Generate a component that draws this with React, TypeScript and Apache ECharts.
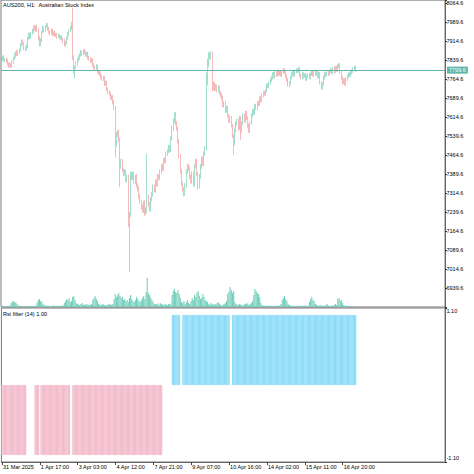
import React, { useEffect, useRef } from 'react';
import * as echarts from 'echarts';

const chartTitle = 'AUS200, H1:  Australian Stock Index';
const indicatorTitle = 'Rsi filter (14) 1.00';
const tickLabels = ['31 Mar 2025', '1 Apr 17:00', '3 Apr 03:00', '4 Apr 12:00', '7 Apr 21:00', '9 Apr 07:00', '10 Apr 16:00', '14 Apr 02:00', '15 Apr 11:00', '16 Apr 20:00'];
const barsPerLabel = 32;
const totalSlots = 375;

const firstOpen = 7840;
const closes = [
  7845, 7850, 7838, 7842, 7835, 7825, 7818, 7822, 7815, 7832,
  7845, 7858, 7868, 7862, 7872, 7878, 7900, 7912, 7905, 7888,
  7882, 7895, 7925, 7938, 7930, 7945, 7955, 7968, 7960, 7972,
  7958, 7925, 7900, 7918, 7950, 7965, 7958, 7972, 7978, 7962,
  7950, 7945, 7955, 7942, 7948, 7938, 7940, 7932, 7935, 7928,
  7930, 7922, 7915, 7900, 7908, 7925, 7942, 7955, 7965, 7975,
  7850, 7795, 7810, 7825, 7838, 7850, 7860, 7870, 7865, 7875,
  7868, 7860, 7865, 7850, 7842, 7835, 7840, 7820, 7812, 7808,
  7815, 7795, 7788, 7785, 7772, 7765, 7770, 7745, 7750, 7725,
  7712, 7705, 7690, 7695, 7672, 7650, 7505, 7545, 7555, 7525,
  7420, 7440, 7405, 7390, 7400, 7365, 7380, 7200, 7230, 7390,
  7375, 7390, 7360, 7380, 7345, 7330, 7300, 7280, 7260, 7245,
  7275, 7235, 7250, 7300, 7270, 7250, 7290, 7310, 7340, 7325,
  7360, 7350, 7380, 7375, 7400, 7420, 7410, 7445, 7440, 7470,
  7480, 7495, 7485, 7530, 7570, 7600, 7625, 7590, 7570, 7520,
  7460, 7400, 7350, 7330, 7310, 7345, 7400, 7420, 7410, 7380,
  7360, 7390, 7350, 7420, 7440, 7390, 7340, 7380, 7420, 7450,
  7430, 7470, 7490, 7770, 7820, 7860, 7850, 7865, 7730, 7745,
  7725, 7735, 7720, 7730, 7710, 7700, 7690, 7660, 7670, 7640,
  7650, 7620, 7600, 7610, 7580, 7540, 7510, 7560, 7590, 7600,
  7570, 7610, 7560, 7590, 7620, 7600, 7630, 7610, 7580, 7560,
  7590, 7620, 7640, 7630, 7660, 7650, 7670, 7665, 7690, 7680,
  7700, 7710, 7705, 7720, 7740, 7735, 7750, 7760, 7770, 7785,
  7775, 7790, 7780, 7795, 7785, 7790, 7780, 7795, 7800, 7790,
  7775, 7760, 7740, 7750, 7770, 7785, 7790, 7780, 7795, 7800,
  7795, 7805, 7780, 7770, 7785, 7775, 7780, 7765, 7775, 7780,
  7770, 7785, 7790, 7780, 7795, 7785, 7790, 7775, 7785, 7750,
  7730, 7745, 7770, 7785, 7780, 7790, 7785, 7795, 7800, 7790,
  7805, 7795, 7810, 7800, 7815, 7820, 7790, 7770, 7750, 7760,
  7745, 7765, 7775, 7785, 7780, 7790, 7795, 7805, 7810, 7799.6,
];
const upperWicks = [
  8, 6, 10, 5, 7, 9, 6, 8, 5, 7,
  7, 9, 6, 10, 8, 7, 6, 9, 8, 5,
  6, 8, 7, 10, 9, 6, 8, 7, 9, 6,
  7, 6, 9, 8, 5, 10, 7, 6, 8, 7,
  8, 6, 7, 9, 5, 8, 6, 7, 9, 6,
  7, 8, 6, 9, 7, 6, 8, 5, 9, 15,
  70, 8, 6, 9, 7, 8, 6, 9, 7, 8,
  7, 9, 6, 8, 7, 9, 6, 8, 7, 6,
  8, 6, 7, 9, 6, 8, 7, 6, 9, 7,
  6, 8, 9, 7, 6, 8, 7, 9, 8, 10,
  8, 10, 9, 7, 8, 9, 7, 6, 10, 8,
  9, 8, 10, 7, 9, 8, 10, 9, 8, 10,
  9, 10, 8, 170, 10, 9, 8, 10, 9, 8,
  9, 8, 10, 9, 8, 10, 9, 8, 10, 9,
  8, 10, 9, 8, 10, 9, 8, 10, 9, 8,
  9, 8, 10, 9, 8, 10, 9, 8, 10, 9,
  8, 10, 9, 8, 10, 9, 8, 10, 9, 8,
  9, 8, 10, 20, 25, 11, 9, 10, 8, 9,
  8, 9, 7, 8, 9, 7, 8, 9, 7, 8,
  8, 9, 7, 8, 9, 7, 8, 9, 7, 8,
  8, 9, 7, 8, 9, 7, 8, 9, 7, 8,
  7, 8, 6, 7, 8, 6, 7, 8, 6, 7,
  6, 7, 8, 6, 7, 8, 6, 7, 8, 6,
  7, 6, 8, 7, 6, 8, 7, 6, 8, 7,
  6, 7, 8, 6, 7, 8, 6, 7, 8, 6,
  7, 8, 6, 7, 8, 6, 7, 8, 6, 7,
  8, 6, 7, 8, 6, 7, 8, 6, 7, 8,
  6, 7, 8, 6, 7, 8, 6, 7, 8, 6,
  7, 8, 6, 7, 8, 6, 7, 8, 6, 7,
  8, 6, 7, 8, 6, 7, 8, 6, 7, 8,
];
const lowerWicks = [
  6, 9, 5, 8, 7, 6, 10, 5, 8, 6,
  8, 5, 9, 6, 7, 10, 5, 8, 6, 9,
  7, 6, 9, 5, 8, 7, 6, 10, 5, 8,
  9, 8, 7, 6, 8, 5, 9, 7, 6, 8,
  6, 9, 5, 8, 7, 6, 8, 9, 5, 7,
  8, 5, 9, 7, 6, 8, 5, 9, 6, 7,
  10, 10, 27, 6, 8, 5, 9, 6, 8, 7,
  6, 8, 7, 9, 5, 8, 7, 6, 9, 7,
  7, 9, 6, 8, 7, 6, 9, 8, 6, 8,
  8, 6, 7, 9, 8, 7, 50, 8, 10, 9,
  83, 9, 8, 10, 7, 9, 8, 20, 199, 10,
  10, 9, 8, 11, 9, 10, 8, 9, 10, 8,
  9, 10, 8, 15, 9, 10, 8, 9, 10, 8,
  8, 10, 9, 8, 10, 9, 8, 10, 9, 8,
  9, 8, 10, 9, 8, 10, 9, 8, 10, 9,
  10, 9, 8, 10, 9, 8, 10, 9, 8, 10,
  9, 8, 10, 9, 8, 10, 13, 8, 9, 10,
  8, 10, 9, 8, 30, 9, 8, 10, 15, 9,
  9, 7, 8, 9, 7, 8, 9, 7, 8, 9,
  9, 7, 8, 9, 7, 8, 45, 7, 8, 9,
  9, 7, 35, 9, 7, 8, 9, 7, 8, 9,
  8, 6, 7, 8, 6, 7, 8, 6, 7, 8,
  7, 8, 6, 7, 8, 6, 7, 8, 6, 7,
  6, 8, 7, 6, 8, 7, 6, 8, 7, 6,
  8, 7, 6, 8, 7, 6, 8, 7, 6, 8,
  6, 7, 8, 6, 7, 8, 6, 7, 8, 6,
  7, 6, 8, 7, 6, 8, 7, 6, 8, 7,
  8, 7, 6, 8, 7, 6, 8, 7, 6, 8,
  6, 8, 7, 6, 8, 7, 6, 8, 7, 6,
  7, 6, 8, 7, 6, 8, 7, 6, 8, 7,
];
const volumes = [
  100, 120, 80, 100, 90, 110, 100, 120, 400, 550,
  600, 450, 500, 300, 150, 120, 100, 80, 100, 90,
  110, 100, 90, 120, 100, 80, 100, 90, 110, 150,
  450, 700, 800, 600, 500, 300, 200, 150, 120, 100,
  120, 100, 90, 110, 150, 120, 100, 130, 110, 100,
  120, 150, 140, 400, 600, 800, 700, 900, 500, 600,
  1000, 1100, 700, 400, 300, 250, 200, 300, 400, 250,
  200, 250, 300, 200, 250, 200, 300, 700, 900, 1100,
  800, 600, 300, 250, 200, 300, 250, 200, 150, 200,
  250, 300, 200, 250, 300, 800, 1300, 1000, 1200, 1400,
  1100, 900, 1000, 700, 800, 600, 700, 500, 900, 1200,
  800, 600, 500, 700, 1000, 800, 600, 500, 700, 900,
  1100, 800, 1500, 2900, 1400, 1200, 900, 700, 500, 300,
  250, 300, 350, 200, 400, 300, 250, 200, 300, 250,
  200, 300, 250, 350, 1200, 1600, 1800, 1500, 1400, 1700,
  1300, 900, 500, 400, 600, 300, 500, 700, 400, 300,
  600, 900, 700, 1200, 1000, 1400, 1600, 1100, 800, 900,
  1300, 1000, 700, 600, 500, 300, 250, 400, 300, 200,
  300, 250, 400, 500, 300, 200, 150, 250, 300, 400,
  600, 1300, 1500, 2000, 1700, 1400, 1600, 500, 300, 250,
  200, 300, 250, 200, 150, 300, 250, 400, 300, 200,
  300, 400, 600, 1200, 1800, 1600, 1400, 1300, 1000, 400,
  200, 150, 120, 100, 150, 120, 100, 150, 130, 100,
  120, 100, 150, 120, 100, 200, 300, 700, 900, 1100,
  800, 600, 300, 200, 150, 120, 100, 130, 100, 120,
  100, 120, 100, 150, 120, 100, 130, 150, 120, 100,
  500, 800, 1000, 700, 600, 300, 200, 150, 120, 200,
  150, 120, 100, 150, 200, 300, 150, 120, 100, 130,
  150, 200, 300, 200, 800, 900, 600, 700, 400, 200,
  150, 120, 100, 130, 100, 90, 80, 70, 60, 50,
];
// [signal value, number of consecutive bars]
const rsiFilterRuns: [number, number][] = [
  [-1, 21], [0, 7], [-1, 4], [0, 1], [-1, 25], [0, 2], [-1, 76],
  [0, 8], [1, 7], [0, 2], [1, 40], [0, 2], [1, 105],
];

const priceAxisMin = 6864.6;
const priceAxisMax = 8076;
const priceStep = 75;
const volumeAxisMax = 30700;
const rsiMin = -1.1;
const rsiMax = 1.1;

const BULL = '#66c9ad';
const BEAR = '#f08c8c';
const VOL = '#72cfbc';
const UP = '#84d8f8';
const DOWN = '#f3b7c9';
const FONT = 'Liberation Sans, Arial, sans-serif';

export default function App() {
  const ref = useRef<HTMLDivElement>(null);
  useEffect(() => {
    const chart = echarts.init(ref.current as HTMLDivElement, null, { renderer: 'svg' });
    const slots = Array.from({ length: totalSlots }, (_, i) => 'b' + i);
    const candles = closes.map((c, i) => {
      const o = i === 0 ? firstOpen : closes[i - 1];
      const hi = Math.max(o, c) + upperWicks[i];
      const lo = Math.min(o, c) - lowerWicks[i];
      return [o, c, lo, hi];
    });
    const rsiData: any[] = [];
    rsiFilterRuns.forEach(([v, n]) => {
      for (let k = 0; k < n; k++) {
        const col = v > 0 ? UP : DOWN;
        rsiData.push(v === 0 ? null : { value: v, itemStyle: { color: col, borderColor: col, borderWidth: 0.3 } });
      }
    });
    const labelAt = (idx: number) => idx % barsPerLabel === 0 && idx / barsPerLabel < tickLabels.length;
    const lastPrice = closes[closes.length - 1];

    const option: any = {
      animation: false,
      backgroundColor: '#ffffff',
      textStyle: { fontFamily: FONT },
      title: [
        { text: chartTitle, left: 3, top: 2, padding: 0, textStyle: { fontSize: 5.6, fontWeight: 'normal', color: '#000', fontFamily: FONT } },
        { text: indicatorTitle, left: 3, top: 310.5, padding: 0, textStyle: { fontSize: 5.6, fontWeight: 'normal', color: '#000', fontFamily: FONT } },
      ],
      grid: [
        { left: 1, right: 29, top: 0, height: 307, show: true, borderColor: '#7a7a7a', borderWidth: 1, backgroundColor: 'transparent' },
        { left: 1, right: 29, top: 308, height: 154, show: true, borderColor: '#7a7a7a', borderWidth: 1, backgroundColor: 'transparent' },
      ],
      xAxis: [
        { type: 'category', gridIndex: 0, data: slots, boundaryGap: true, axisLine: { show: false, onZero: false }, axisTick: { show: false }, axisLabel: { show: false }, splitLine: { show: false } },
        {
          type: 'category', gridIndex: 1, data: slots, boundaryGap: true, position: 'bottom',
          axisLine: { show: true, onZero: false, lineStyle: { color: '#666', width: 1 } },
          axisTick: { show: true, inside: false, alignWithLabel: true, length: 3, interval: (i: number) => labelAt(i), lineStyle: { color: '#444' } },
          axisLabel: {
            show: true, interval: (i: number) => labelAt(i), align: 'left', margin: 1.5, padding: [0, 0, 0, 1],
            fontSize: 5.5, color: '#000', fontFamily: FONT,
            formatter: (_v: string, i: number) => (labelAt(i) ? tickLabels[i / barsPerLabel] : ''),
          },
          splitLine: { show: false },
        },
      ],
      yAxis: [
        {
          type: 'value', gridIndex: 0, position: 'right', min: priceAxisMin, max: priceAxisMax, interval: priceStep, scale: true,
          axisLine: { show: true, lineStyle: { color: '#666' } },
          axisTick: { show: true, length: 2, lineStyle: { color: '#333' } },
          axisLabel: {
            fontSize: 5.5, color: '#000', margin: 1.5, fontFamily: FONT,
            formatter: (v: number) => {
              const k = (v - priceAxisMin) / priceStep;
              return Math.abs(k - Math.round(k)) < 1e-6 && k >= 0.5 ? v.toFixed(1) : '';
            },
          },
          splitLine: { show: false },
        },
        { type: 'value', gridIndex: 0, min: 0, max: volumeAxisMax, show: false, splitLine: { show: false } },
        {
          type: 'value', gridIndex: 1, position: 'right', min: rsiMin, max: rsiMax, interval: rsiMax - rsiMin,
          axisLine: { show: true, lineStyle: { color: '#666' } },
          axisTick: { show: true, length: 2, lineStyle: { color: '#333' } },
          axisLabel: {
            fontSize: 5.5, color: '#000', margin: 1.5, fontFamily: FONT,
            formatter: (v: number) => (v > 0 ? '{t|' + v.toFixed(2) + '}' : '{b|' + v.toFixed(2) + '}'),
            rich: {
              t: { fontSize: 5.5, color: '#000', padding: [6, 0, 0, 0], fontFamily: FONT },
              b: { fontSize: 5.5, color: '#000', padding: [0, 0, 8, 0], fontFamily: FONT },
            },
          },
          splitLine: { show: false },
        },
      ],
      series: [
        {
          name: 'volume', type: 'bar', xAxisIndex: 0, yAxisIndex: 1, data: volumes,
          barCategoryGap: '10%', itemStyle: { color: VOL }, silent: true,
        },
        {
          name: 'AUS200', type: 'candlestick', xAxisIndex: 0, yAxisIndex: 0, data: candles, barWidth: 1,
          itemStyle: { color: BULL, color0: BEAR, borderColor: BULL, borderColor0: BEAR, borderWidth: 0.6 },
          markLine: {
            silent: true, symbol: ['none', 'none'], animation: false,
            lineStyle: { color: '#5fb5a6', width: 1, type: 'solid' },
            label: {
              show: true, position: 'end', distance: 2, formatter: () => lastPrice.toFixed(1),
              color: '#fff', backgroundColor: '#5fb5a6', fontSize: 5.5, padding: [1, 2, 0, 2], fontFamily: FONT,
            },
            data: [{ yAxis: lastPrice }],
          },
        },
        {
          name: 'Rsi filter', type: 'bar', xAxisIndex: 1, yAxisIndex: 2, data: rsiData,
          barCategoryGap: '0%', silent: true,
        },
      ],
    };
    chart.setOption(option);
    return () => chart.dispose();
  }, []);
  return <div ref={ref} style={{ position: 'fixed', left: 0, top: 0, width: 474, height: 474, background: '#fff' }} />;
}
